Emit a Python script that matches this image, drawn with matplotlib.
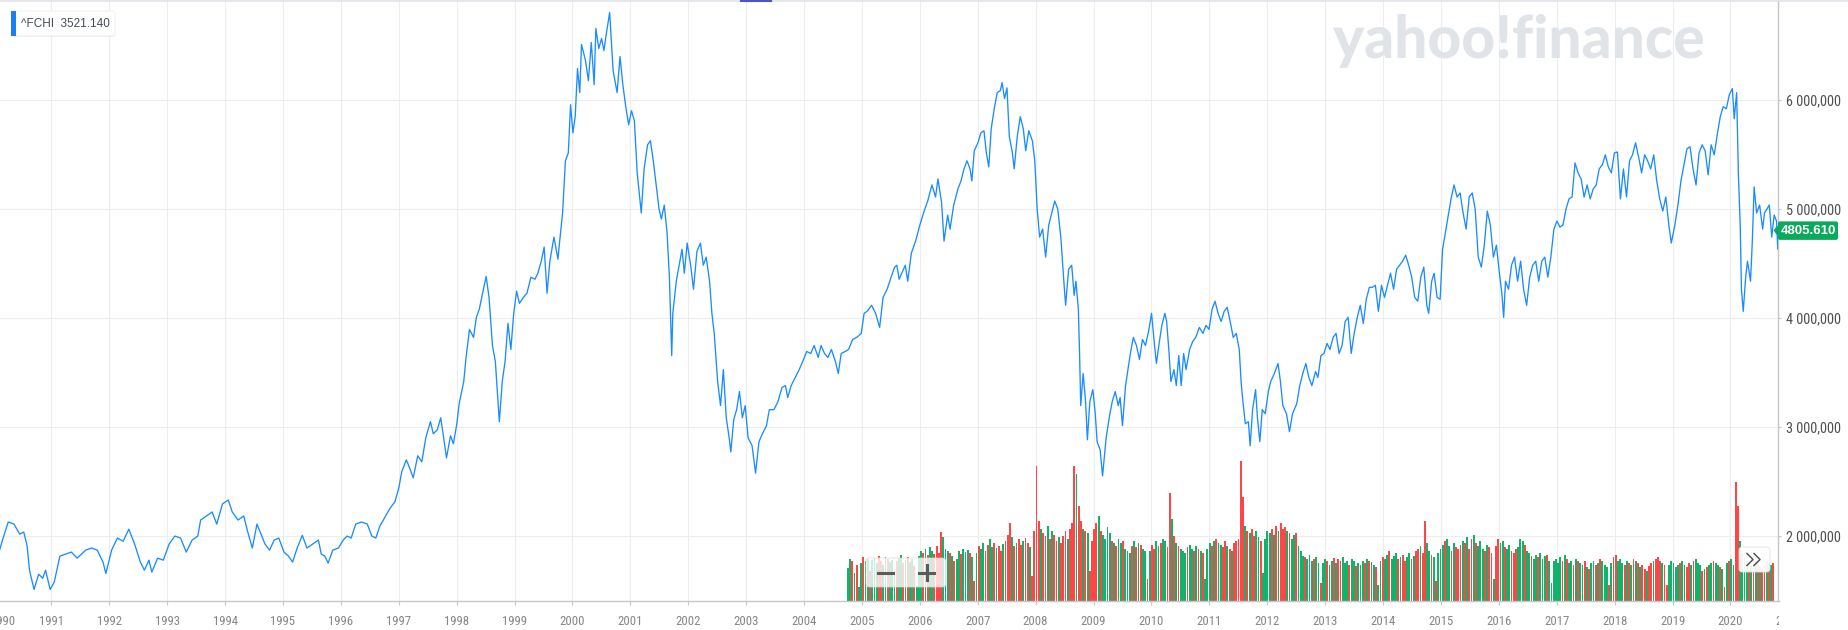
import numpy as np
import pandas as pd
import matplotlib
matplotlib.use("Agg")
import matplotlib.pyplot as plt
from matplotlib import transforms
from matplotlib.font_manager import FontProperties, fontManager
from matplotlib.patches import FancyBboxPatch, Rectangle, PathPatch, Polygon
from matplotlib.lines import Line2D
from matplotlib.textpath import TextPath

# ---------------- data ----------------
ticker = "^FCHI"
tooltip_value = "3521.140"
last_value = 4805.61
last_label = "4805.610"

price_years = [
    1990.107, 1990.157, 1990.256, 1990.355, 1990.454, 1990.524, 1990.583, 1990.623, 1990.702, 1990.782,
    1990.851, 1990.901, 1990.980, 1991.050, 1991.149, 1991.248, 1991.347, 1991.446, 1991.595, 1991.694,
    1991.794, 1991.893, 1991.942, 1992.042, 1992.141, 1992.240, 1992.339, 1992.439, 1992.538, 1992.607,
    1992.687, 1992.736, 1992.835, 1992.935, 1993.034, 1993.133, 1993.232, 1993.331, 1993.431, 1993.530,
    1993.579, 1993.679, 1993.778, 1993.857, 1993.956, 1994.056, 1994.125, 1994.224, 1994.324, 1994.393,
    1994.472, 1994.552, 1994.621, 1994.691, 1994.770, 1994.849, 1994.929, 1995.018, 1995.097, 1995.167,
    1995.246, 1995.335, 1995.415, 1995.514, 1995.613, 1995.663, 1995.722, 1995.782, 1995.861, 1995.960,
    1996.040, 1996.109, 1996.179, 1996.258, 1996.357, 1996.457, 1996.536, 1996.605, 1996.675, 1996.754,
    1996.853, 1996.933, 1997.002, 1997.052, 1997.131, 1997.201, 1997.250, 1997.329, 1997.399, 1997.468,
    1997.548, 1997.597, 1997.667, 1997.726, 1997.766, 1997.825, 1997.895, 1997.944, 1998.004, 1998.044,
    1998.123, 1998.163, 1998.222, 1998.292, 1998.341, 1998.391, 1998.441, 1998.510, 1998.560, 1998.619,
    1998.669, 1998.738, 1998.788, 1998.837, 1998.887, 1998.937, 1998.986, 1999.036, 1999.085, 1999.155,
    1999.214, 1999.284, 1999.353, 1999.403, 1999.462, 1999.512, 1999.562, 1999.611, 1999.681, 1999.750,
    1999.780, 1999.830, 1999.879, 1999.929, 1999.968, 2000.008, 2000.048, 2000.088, 2000.127, 2000.157,
    2000.226, 2000.276, 2000.326, 2000.375, 2000.405, 2000.455, 2000.504, 2000.544, 2000.584, 2000.643,
    2000.703, 2000.772, 2000.822, 2000.871, 2000.921, 2000.971, 2001.020, 2001.070, 2001.119, 2001.189,
    2001.238, 2001.298, 2001.347, 2001.397, 2001.447, 2001.496, 2001.536, 2001.586, 2001.635, 2001.675,
    2001.715, 2001.734, 2001.794, 2001.843, 2001.893, 2001.933, 2001.982, 2002.042, 2002.091, 2002.151,
    2002.211, 2002.260, 2002.310, 2002.369, 2002.409, 2002.449, 2002.508, 2002.558, 2002.607, 2002.657,
    2002.707, 2002.736, 2002.786, 2002.836, 2002.885, 2002.935, 2002.984, 2003.034, 2003.103, 2003.163,
    2003.222, 2003.282, 2003.351, 2003.401, 2003.480, 2003.550, 2003.619, 2003.679, 2003.718, 2003.778,
    2003.847, 2003.917, 2003.977, 2004.046, 2004.116, 2004.175, 2004.245, 2004.294, 2004.354, 2004.413,
    2004.473, 2004.542, 2004.592, 2004.642, 2004.711, 2004.770, 2004.840, 2004.909, 2004.988, 2005.038,
    2005.088, 2005.167, 2005.236, 2005.306, 2005.365, 2005.435, 2005.504, 2005.564, 2005.603, 2005.643,
    2005.749, 2005.791, 2005.854, 2005.927, 2006.000, 2006.063, 2006.136, 2006.209, 2006.272, 2006.313,
    2006.376, 2006.418, 2006.481, 2006.522, 2006.585, 2006.658, 2006.711, 2006.763, 2006.815, 2006.867,
    2006.899, 2006.940, 2007.003, 2007.055, 2007.108, 2007.149, 2007.191, 2007.233, 2007.285, 2007.337,
    2007.390, 2007.421, 2007.463, 2007.505, 2007.546, 2007.599, 2007.630, 2007.682, 2007.735, 2007.787,
    2007.829, 2007.881, 2007.944, 2007.985, 2008.027, 2008.069, 2008.121, 2008.173, 2008.226, 2008.278,
    2008.330, 2008.382, 2008.435, 2008.487, 2008.518, 2008.570, 2008.623, 2008.665, 2008.696, 2008.738,
    2008.759, 2008.779, 2008.821, 2008.863, 2008.894, 2008.936, 2008.988, 2009.030, 2009.062, 2009.114,
    2009.156, 2009.218, 2009.271, 2009.323, 2009.375, 2009.427, 2009.459, 2009.500, 2009.553, 2009.594,
    2009.636, 2009.688, 2009.741, 2009.793, 2009.845, 2009.897, 2009.950, 2010.002, 2010.054, 2010.086,
    2010.138, 2010.180, 2010.232, 2010.263, 2010.305, 2010.336, 2010.389, 2010.430, 2010.472, 2010.514,
    2010.556, 2010.598, 2010.660, 2010.713, 2010.765, 2010.827, 2010.890, 2010.942, 2010.995, 2011.047,
    2011.099, 2011.151, 2011.204, 2011.256, 2011.308, 2011.360, 2011.413, 2011.465, 2011.517, 2011.548,
    2011.580, 2011.622, 2011.674, 2011.705, 2011.747, 2011.799, 2011.831, 2011.872, 2011.914, 2011.966,
    2012.019, 2012.060, 2012.123, 2012.186, 2012.228, 2012.269, 2012.332, 2012.384, 2012.437, 2012.510,
    2012.562, 2012.614, 2012.667, 2012.719, 2012.771, 2012.834, 2012.875, 2012.928, 2012.980, 2013.032,
    2013.084, 2013.137, 2013.189, 2013.241, 2013.293, 2013.346, 2013.398, 2013.450, 2013.502, 2013.555,
    2013.607, 2013.659, 2013.711, 2013.764, 2013.816, 2013.868, 2013.920, 2013.973, 2014.025, 2014.077,
    2014.129, 2014.182, 2014.234, 2014.286, 2014.338, 2014.391, 2014.443, 2014.495, 2014.547, 2014.600,
    2014.652, 2014.704, 2014.756, 2014.788, 2014.840, 2014.882, 2014.934, 2014.986, 2015.028, 2015.070,
    2015.122, 2015.174, 2015.226, 2015.279, 2015.331, 2015.383, 2015.435, 2015.488, 2015.540, 2015.592,
    2015.644, 2015.697, 2015.749, 2015.801, 2015.853, 2015.906, 2015.958, 2016.010, 2016.052, 2016.083,
    2016.115, 2016.167, 2016.219, 2016.271, 2016.324, 2016.376, 2016.428, 2016.480, 2016.533, 2016.585,
    2016.637, 2016.689, 2016.742, 2016.794, 2016.846, 2016.898, 2016.951, 2017.003, 2017.055, 2017.107,
    2017.160, 2017.212, 2017.264, 2017.316, 2017.369, 2017.421, 2017.473, 2017.525, 2017.578, 2017.630,
    2017.682, 2017.734, 2017.787, 2017.839, 2017.891, 2017.943, 2017.996, 2018.048, 2018.100, 2018.152,
    2018.205, 2018.257, 2018.309, 2018.361, 2018.414, 2018.466, 2018.518, 2018.570, 2018.623, 2018.675,
    2018.727, 2018.779, 2018.832, 2018.884, 2018.936, 2018.978, 2019.040, 2019.093, 2019.145, 2019.197,
    2019.249, 2019.302, 2019.354, 2019.406, 2019.458, 2019.511, 2019.563, 2019.615, 2019.667, 2019.720,
    2019.772, 2019.824, 2019.876, 2019.929, 2019.981, 2020.033, 2020.065, 2020.107, 2020.138, 2020.169,
    2020.190, 2020.221, 2020.263, 2020.294, 2020.347, 2020.378, 2020.409, 2020.452, 2020.504, 2020.556,
    2020.588, 2020.629, 2020.671, 2020.713, 2020.755, 2020.796, 2020.817, 2020.838,
]
price_values = [
    1871, 1963, 2129, 2110, 2018, 2037, 1908, 1687, 1510, 1650,
    1613, 1687, 1510, 1576, 1816, 1834, 1853, 1797, 1871, 1890,
    1871, 1761, 1657, 1871, 1982, 1952, 2063, 1926, 1761, 1687,
    1779, 1669, 1797, 1779, 1926, 2000, 1982, 1853, 1963, 2000,
    2147, 2184, 2221, 2110, 2295, 2331, 2221, 2147, 2184, 2037,
    1890, 2110, 2018, 1926, 1871, 1963, 1982, 1853, 1816, 1761,
    1890, 2007, 1890, 1926, 1963, 1834, 1816, 1753, 1871, 1890,
    1963, 2000, 1982, 2110, 2129, 2110, 2000, 1982, 2092, 2166,
    2258, 2313, 2442, 2589, 2700, 2608, 2534, 2737, 2681, 2902,
    3050, 2939, 2976, 3086, 2939, 2718, 2921, 2847, 3031, 3215,
    3418, 3639, 3897, 3823, 4007, 4081, 4210, 4383, 4191, 3749,
    3602, 3050, 3418, 3602, 3952, 3713, 4044, 4247, 4136, 4191,
    4228, 4376, 4357, 4412, 4523, 4652, 4228, 4523, 4744, 4541,
    4707, 4965, 5444, 5517, 5959, 5701, 5849, 6291, 6070, 6512,
    6364, 6180, 6530, 6143, 6659, 6475, 6567, 6456, 6604, 6806,
    6272, 6070, 6401, 6143, 5941, 5775, 5904, 5812, 5333, 4965,
    5370, 5591, 5628, 5444, 5223, 5001, 4910, 5038, 4781, 4376,
    3657, 4044, 4339, 4486, 4633, 4412, 4689, 4486, 4265, 4615,
    4689, 4486, 4560, 4339, 4044, 3860, 3418, 3197, 3528, 3086,
    2902, 2773, 3068, 3160, 3326, 3086, 3197, 2902, 2829, 2578,
    2866, 2939, 3013, 3160, 3160, 3234, 3363, 3381, 3271, 3381,
    3455, 3528, 3602, 3694, 3676, 3749, 3639, 3749, 3676, 3639,
    3713, 3602, 3492, 3676, 3694, 3713, 3805, 3823, 3860, 4044,
    4062, 4118, 4044, 3915, 4191, 4265, 4376, 4468, 4486, 4357,
    4486, 4339, 4597, 4707, 4854, 4965, 5075, 5223, 5112, 5278,
    5057, 4707, 4946, 4817, 5038, 5186, 5259, 5370, 5444, 5370,
    5259, 5536, 5609, 5701, 5720, 5517, 5388, 5738, 5922, 6070,
    6088, 6162, 6015, 6114, 5665, 5517, 5370, 5665, 5849, 5738,
    5536, 5720, 5628, 5444, 5001, 4744, 4817, 4560, 4854, 4965,
    5075, 5001, 4744, 4339, 4118, 4449, 4486, 4210, 4339, 4081,
    3676, 3197, 3492, 3234, 2884, 3234, 3344, 3123, 2866, 2792,
    2552, 2902, 3086, 3234, 3326, 3197, 3271, 3013, 3381, 3528,
    3676, 3823, 3749, 3621, 3805, 3749, 3878, 4044, 3749, 3584,
    3786, 3934, 4044, 3970, 3676, 3418, 3528, 3381, 3657, 3381,
    3676, 3528, 3713, 3786, 3823, 3915, 3860, 3934, 3897, 4081,
    4155, 4044, 3970, 4062, 4099, 3970, 3823, 3860, 3713, 3418,
    3234, 3031, 3050, 2829, 3160, 3344, 3086, 2866, 3160, 3123,
    3326, 3418, 3492, 3584, 3418, 3197, 3123, 2958, 3123, 3215,
    3381, 3492, 3584, 3455, 3381, 3510, 3455, 3657, 3676, 3768,
    3713, 3823, 3860, 3676, 3749, 3970, 4007, 3676, 3860, 4007,
    4118, 3952, 4173, 4283, 4283, 4302, 4062, 4302, 4191, 4302,
    4412, 4265, 4449, 4486, 4523, 4578, 4486, 4376, 4191, 4155,
    4376, 4468, 4118, 4044, 4339, 4412, 4191, 4173, 4633, 4762,
    4928, 5094, 5223, 5112, 5149, 4965, 4817, 5112, 5149, 5001,
    4560, 4468, 4670, 4983, 4854, 4560, 4670, 4412, 4228, 4007,
    4339, 4265, 4486, 4560, 4339, 4523, 4265, 4118, 4376, 4486,
    4523, 4339, 4523, 4560, 4376, 4560, 4817, 4891, 4836, 4854,
    5001, 5094, 5112, 5425, 5333, 5278, 5112, 5223, 5094, 5186,
    5223, 5370, 5407, 5499, 5388, 5333, 5517, 5525, 5094, 5370,
    5112, 5444, 5499, 5609, 5480, 5333, 5499, 5444, 5370, 5499,
    5259, 5094, 4983, 5112, 4854, 4689, 4854, 5038, 5259, 5407,
    5554, 5573, 5370, 5223, 5517, 5591, 5536, 5315, 5591, 5499,
    5683, 5849, 5941, 5922, 6051, 6107, 5830, 6070, 5296, 4854,
    4265, 4062, 4376, 4523, 4339, 4707, 5204, 4965, 5038, 4817,
    4965, 5001, 5038, 4744, 4946, 4891, 4633, 4805.61,
]

# weekly volume, one bar every two weeks, from the first volume week
vol_start = "2004-10-04"
vol_2004 = [33, 42, 40, 28, 36, 14]
vol_2005 = [38, 44, 40, 42, 30, 41, 43, 38, 45, 40, 36, 44, 42, 39, 41, 30, 40, 43, 46, 38, 41, 44, 39, 42, 35, 15]
vol_2006 = [45, 50, 48, 52, 46, 54, 50, 47, 55, 48, 69, 64, 52, 50, 48, 45, 40, 42, 50, 47, 52, 49, 51, 48, 44, 20]
vol_2007 = [48, 55, 52, 58, 50, 56, 62, 54, 58, 53, 55, 50, 57, 60, 66, 78, 64, 55, 58, 62, 56, 60, 63, 58, 54, 25]
vol_2008 = [70, 135, 80, 72, 68, 65, 75, 62, 70, 66, 60, 64, 58, 65, 70, 62, 72, 78, 135, 127, 95, 80, 72, 70, 68, 30]
vol_2009 = [60, 72, 78, 85, 70, 66, 62, 74, 68, 60, 58, 55, 62, 58, 60, 52, 50, 48, 55, 60, 54, 58, 56, 52, 50, 22]
vol_2010 = [50, 56, 52, 60, 55, 58, 62, 60, 54, 108, 82, 65, 58, 55, 52, 50, 48, 54, 56, 52, 50, 55, 52, 50, 48, 22]
vol_2011 = [52, 58, 55, 60, 62, 58, 56, 54, 60, 55, 52, 50, 58, 60, 62, 140, 104, 75, 70, 68, 72, 65, 70, 64, 60, 28]
vol_2012 = [62, 70, 68, 72, 66, 75, 70, 78, 72, 74, 70, 68, 62, 66, 68, 55, 50, 45, 44, 42, 46, 40, 42, 44, 38, 18]
vol_2013 = [38, 42, 40, 36, 40, 43, 38, 42, 40, 44, 38, 40, 36, 42, 40, 35, 38, 36, 40, 38, 42, 40, 39, 36, 34, 16]
vol_2014 = [40, 44, 42, 46, 50, 42, 45, 48, 42, 44, 46, 40, 44, 48, 42, 45, 50, 52, 55, 48, 80, 58, 50, 46, 44, 20]
vol_2015 = [48, 52, 56, 60, 62, 55, 50, 58, 54, 52, 56, 60, 58, 64, 52, 62, 66, 58, 55, 60, 52, 50, 56, 54, 48, 22]
vol_2016 = [55, 62, 58, 60, 54, 52, 56, 50, 48, 52, 54, 62, 60, 56, 50, 48, 45, 42, 46, 44, 48, 42, 45, 46, 40, 18]
vol_2017 = [40, 42, 38, 44, 40, 46, 42, 38, 40, 36, 42, 40, 38, 36, 40, 34, 32, 38, 40, 36, 38, 42, 40, 36, 34, 16]
vol_2018 = [38, 44, 46, 40, 42, 38, 36, 40, 38, 36, 42, 40, 38, 34, 36, 32, 30, 35, 38, 40, 42, 44, 40, 38, 36, 16]
vol_2019 = [36, 40, 38, 34, 36, 38, 40, 36, 34, 38, 36, 40, 42, 38, 36, 30, 32, 34, 36, 38, 40, 38, 36, 34, 32, 14]
vol_2020 = [38, 40, 42, 36, 119, 95, 60, 48, 44, 40, 38, 36, 42, 40, 38, 34, 32, 36, 40, 38, 36, 38]

# g = up week, r = down week
dir_2004 = "ggrgrg"
dir_2005 = "grggr" "gggrr" "ggrgg" "grggr" "grggr" "g"
dir_2006 = "ggrgr" "ggrrr" "rgggr" "grggr" "gggrg" "r"
dir_2007 = "grggr" "rggrg" "rrgrr" "rgrgr" "rgrrg" "r"
dir_2008 = "rrrgr" "rgrgr" "rgrrr" "grrrg" "rrgrg" "r"
dir_2009 = "rrrgr" "ggggr" "grggr" "gggrg" "rgrgg" "r"
dir_2010 = "grrgg" "rggrr" "grgrg" "ggrgg" "rgrgr" "g"
dir_2011 = "ggrgr" "ggrrg" "rgrrr" "rrgrg" "rrggr" "g"
dir_2012 = "gggrg" "rgrrr" "grggr" "gggrg" "ggrgg" "r"
dir_2013 = "ggrgg" "rgrrg" "ggrgg" "rgggr" "grggr" "g"
dir_2014 = "grggr" "gggrg" "rrggr" "grrgr" "rggrg" "r"
dir_2015 = "gggrg" "grgrr" "rgrgr" "rgrgg" "grgrr" "g"
dir_2016 = "rrggr" "ggrrr" "gggrg" "grggr" "gggrg" "g"
dir_2017 = "ggggr" "grggr" "grggr" "grggr" "grggg" "r"
dir_2018 = "grrgg" "grgrg" "rgrgr" "rgrrg" "rrrgr" "r"
dir_2019 = "ggggg" "rggrr" "grggg" "rgrgg" "rggrg" "r"
dir_2020 = "grggr" "rgggg" "rgrgr" "grrgr" "gr"

year_ticks = list(range(1991, 2021))
price_ticks = [2000, 3000, 4000, 5000, 6000]
price_tick_labels = ["2 000,000", "3 000,000", "4 000,000", "5 000,000", "6 000,000"]

# ---------------- assemble ----------------
vol_blocks = [vol_2004, vol_2005, vol_2006, vol_2007, vol_2008, vol_2009, vol_2010, vol_2011,
              vol_2012, vol_2013, vol_2014, vol_2015, vol_2016, vol_2017, vol_2018, vol_2019, vol_2020]
dir_blocks = [dir_2004, dir_2005, dir_2006, dir_2007, dir_2008, dir_2009, dir_2010, dir_2011,
              dir_2012, dir_2013, dir_2014, dir_2015, dir_2016, dir_2017, dir_2018, dir_2019, dir_2020]
vol_values = [v for b in vol_blocks for v in b]
vol_dirs = "".join(dir_blocks)
n = min(len(vol_values), len(vol_dirs))
vol_values = vol_values[:n]
vol_dirs = vol_dirs[:n]
vol_dates = pd.date_range(vol_start, periods=n, freq="14D")
vol_years = np.asarray(vol_dates.year + (vol_dates.dayofyear - 1) / 365.25, dtype=float)

GREEN = "#12b369"
RED = "#ff4646"
BLUE = "#1a8cff"
vol_colors = [GREEN if d == "g" else RED for d in vol_dirs]

# ---------------- figure ----------------
W, H, DPI = 1849, 630, 100
fig = plt.figure(figsize=(W / DPI, H / DPI), dpi=DPI, facecolor="white")

names = {f.name for f in fontManager.ttflist}


def pick(*cands):
    for c in cands:
        if c in names:
            return c
    return "DejaVu Sans"


base = pick("Liberation Sans", "Arial", "DejaVu Sans")
narrow = pick("Liberation Sans Narrow", "Roboto Condensed")
if narrow == "DejaVu Sans":
    narrow = None
if narrow:
    tick_family, xs, ys = narrow, 9.2, 10.3
else:
    tick_family, xs, ys = base, 7.8, 8.8

PX = transforms.Affine2D().scale(1, -1).translate(0, H)   # layout in top-left pixel coords

AX_R, AX_B = 1778.5, 601
ax = fig.add_axes([0, 1 - AX_B / H, AX_R / W, AX_B / H])
ax.patch.set_visible(False)

# volume bars (own scale, bottom of the chart)
vol_top = 601.0
vol_tr = transforms.blended_transform_factory(
    ax.transData, transforms.Affine2D().scale(1, 1 / vol_top) + ax.transAxes)
bw = 14 / 365.25 * 0.82
ax.bar(vol_years, vol_values, width=bw, color=vol_colors, linewidth=0,
       transform=vol_tr, zorder=2)

# price line
ax.plot(price_years, price_values, color=BLUE, lw=0.95, zorder=3, solid_joinstyle="round")
ax.plot([price_years[-1]], [price_values[-1]], "o", color=BLUE, ms=6, zorder=6, clip_on=False)

# watermark
wm_prop = FontProperties(family=pick("Lato", "Open Sans", "DejaVu Sans"), weight="black")
tp = TextPath((0, 0), "yahoo!finance", size=100, prop=wm_prop)
ext = tp.get_extents()
sx = 370 / ext.width
sy = 44 / ext.y1
wm_tr = transforms.Affine2D().translate(-ext.x0, 0).scale(sx, sy).translate(1333, H - 58)
ax.add_artist(PathPatch(tp, transform=wm_tr, facecolor="#e0e3e8", edgecolor="none", zorder=1.5))

# axes styling
ax.set_xlim(1990.114, 2020.830)
ax.set_ylim(1404, 6920)
ax.set_xticks(year_ticks)
ax.set_xticklabels([str(y) for y in year_ticks])
ax.yaxis.tick_right()
ax.set_yticks(price_ticks)
ax.set_yticklabels(price_tick_labels)
ax.grid(True, color="#ededed", lw=0.8)
ax.set_axisbelow(True)
for s in ("top", "left"):
    ax.spines[s].set_visible(False)
for s in ("bottom", "right"):
    ax.spines[s].set_color("#c6c6c6")
    ax.spines[s].set_linewidth(1.0)
TL, PAD = 3.0, 7.0
ax.tick_params(axis="x", direction="out", length=TL, width=0.8, color="#c6c6c6", pad=PAD,
               labelsize=xs, labelcolor="#868686")
ax.tick_params(axis="y", direction="out", length=2.5, width=0.8, color="#c6c6c6", pad=3,
               labelsize=ys, labelcolor="#4f4f4f", right=True, left=False)
for lbl in ax.get_xticklabels() + ax.get_yticklabels():
    lbl.set_fontfamily(tick_family)

# edge year labels (partly cut off)
lab_tr = ax.get_xaxis_transform() + transforms.ScaledTranslation(0, -(TL + PAD) / 72, fig.dpi_scale_trans)
fig.text(1990.15, 0, "1990", transform=lab_tr, ha="center", va="top", fontsize=xs,
         family=tick_family, color="#868686")
t21 = fig.text(2021, 0, "2021", transform=lab_tr, ha="center", va="top", fontsize=xs,
               family=tick_family, color="#868686")
t21.set_clip_on(True)
t21.set_clip_box(transforms.Bbox.from_extents(0, 0, 1779, H))

# top border + small blue marker
fig.add_artist(Line2D([0, W], [0.7, 0.7], transform=PX, color="#dfe3e8", lw=1.2))
fig.add_artist(Line2D([741, 771], [0.8, 0.8], transform=PX, color="#4b54c6", lw=1.5))

# tooltip box
fig.add_artist(FancyBboxPatch((11, 12), 104, 25, boxstyle="round,pad=0,rounding_size=3",
                              transform=PX, fc="black", ec="none", alpha=0.06))
fig.add_artist(FancyBboxPatch((11, 11), 104, 25, boxstyle="round,pad=0,rounding_size=3",
                              transform=PX, fc="white", ec="#ececec", lw=0.6))
fig.add_artist(Rectangle((11, 11), 4.5, 25, transform=PX, fc="#1a7ef5", ec="none"))
fig.text(21, 23.8, ticker + "  " + tooltip_value, transform=PX, ha="left", va="center",
         fontsize=8.5, family=base, color="#464b58")

# last price tag
yd = ax.transData.transform((2020.830, last_value))[1]
yt = H - yd
fig.add_artist(Polygon([(1773.5, yt), (1780, yt - 6.5), (1780, yt + 6.5)], transform=PX,
                       fc="#0ba95b", ec="none"))
fig.add_artist(FancyBboxPatch((1778, yt - 9), 60, 18.5, boxstyle="round,pad=0,rounding_size=2",
                              transform=PX, fc="#0ba95b", ec="none"))
fig.text(1808.5, yt + 0.5, last_label, transform=PX, ha="center", va="center", color="white",
         fontsize=9.5, fontweight="bold", family=base, zorder=5)

# zoom control (- +)
fig.add_artist(FancyBboxPatch((866, 558), 80, 29, boxstyle="round,pad=0,rounding_size=4",
                              transform=PX, fc="white", ec="#dcdcdc", lw=0.6, alpha=0.78))
fig.add_artist(Line2D([878, 893], [572.5, 572.5], transform=PX, color="#5b5b5b", lw=2.2))
fig.add_artist(Line2D([919, 934], [572.5, 572.5], transform=PX, color="#5b5b5b", lw=2.2))
fig.add_artist(Line2D([926.5, 926.5], [565, 580], transform=PX, color="#5b5b5b", lw=2.2))

# ">>" button
fig.add_artist(FancyBboxPatch((1739, 547), 31, 25, boxstyle="round,pad=0,rounding_size=3",
                              transform=PX, fc="white", ec="#e2e2e2", lw=0.6, alpha=0.92))
fig.add_artist(Line2D([1747, 1753, 1747], [553.5, 559.5, 565.5], transform=PX, color="#555555", lw=1.1))
fig.add_artist(Line2D([1754, 1760, 1754], [553.5, 559.5, 565.5], transform=PX, color="#555555", lw=1.1))

fig.savefig("out.png", dpi=DPI, facecolor="white")
